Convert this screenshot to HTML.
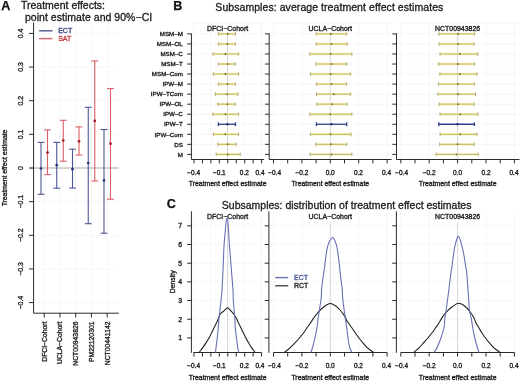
<!DOCTYPE html>
<html><head><meta charset="utf-8"><style>
html,body{margin:0;padding:0;background:#fff;}
svg{display:block;}
</style></head><body>
<svg width="520" height="381" viewBox="0 0 520 381" style="font-family:'Liberation Sans', Arial, Helvetica, sans-serif">
<rect width="520" height="381" fill="#fff"/>
<line x1="44.20" y1="22.40" x2="44.20" y2="313.20" stroke="#f4f4f6" stroke-width="0.8" />
<line x1="59.95" y1="22.40" x2="59.95" y2="313.20" stroke="#f4f4f6" stroke-width="0.8" />
<line x1="75.70" y1="22.40" x2="75.70" y2="313.20" stroke="#f4f4f6" stroke-width="0.8" />
<line x1="91.45" y1="22.40" x2="91.45" y2="313.20" stroke="#f4f4f6" stroke-width="0.8" />
<line x1="107.20" y1="22.40" x2="107.20" y2="313.20" stroke="#f4f4f6" stroke-width="0.8" />
<line x1="33.60" y1="33.40" x2="118.70" y2="33.40" stroke="#f4f4f6" stroke-width="0.8" />
<line x1="33.60" y1="67.05" x2="118.70" y2="67.05" stroke="#f4f4f6" stroke-width="0.8" />
<line x1="33.60" y1="100.70" x2="118.70" y2="100.70" stroke="#f4f4f6" stroke-width="0.8" />
<line x1="33.60" y1="134.35" x2="118.70" y2="134.35" stroke="#f4f4f6" stroke-width="0.8" />
<line x1="33.60" y1="201.65" x2="118.70" y2="201.65" stroke="#f4f4f6" stroke-width="0.8" />
<line x1="33.60" y1="235.30" x2="118.70" y2="235.30" stroke="#f4f4f6" stroke-width="0.8" />
<line x1="33.60" y1="268.95" x2="118.70" y2="268.95" stroke="#f4f4f6" stroke-width="0.8" />
<line x1="33.60" y1="302.60" x2="118.70" y2="302.60" stroke="#f4f4f6" stroke-width="0.8" />
<line x1="33.60" y1="168.00" x2="118.70" y2="168.00" stroke="#a8a8a8" stroke-width="1" />
<line x1="30.00" y1="168.00" x2="33.60" y2="168.00" stroke="#a8a8a8" stroke-width="1" />
<path d="M33.6,22.4 V313.2 H118.7" fill="none" stroke="#2a2a2a" stroke-width="1"/>
<line x1="29.00" y1="33.40" x2="33.60" y2="33.40" stroke="#2a2a2a" stroke-width="1" />
<text x="22.80" y="33.40" font-size="6.9" text-anchor="middle" fill="#1e1e1e" font-weight="normal" stroke="#1e1e1e" stroke-width="0.34" transform="rotate(-90 22.80 33.40)" >0.4</text>
<line x1="29.00" y1="67.05" x2="33.60" y2="67.05" stroke="#2a2a2a" stroke-width="1" />
<text x="22.80" y="67.05" font-size="6.9" text-anchor="middle" fill="#1e1e1e" font-weight="normal" stroke="#1e1e1e" stroke-width="0.34" transform="rotate(-90 22.80 67.05)" >0.3</text>
<line x1="29.00" y1="100.70" x2="33.60" y2="100.70" stroke="#2a2a2a" stroke-width="1" />
<text x="22.80" y="100.70" font-size="6.9" text-anchor="middle" fill="#1e1e1e" font-weight="normal" stroke="#1e1e1e" stroke-width="0.34" transform="rotate(-90 22.80 100.70)" >0.2</text>
<line x1="29.00" y1="134.35" x2="33.60" y2="134.35" stroke="#2a2a2a" stroke-width="1" />
<text x="22.80" y="134.35" font-size="6.9" text-anchor="middle" fill="#1e1e1e" font-weight="normal" stroke="#1e1e1e" stroke-width="0.34" transform="rotate(-90 22.80 134.35)" >0.1</text>
<line x1="29.00" y1="168.00" x2="33.60" y2="168.00" stroke="#2a2a2a" stroke-width="1" />
<text x="22.80" y="168.00" font-size="6.9" text-anchor="middle" fill="#1e1e1e" font-weight="normal" stroke="#1e1e1e" stroke-width="0.34" transform="rotate(-90 22.80 168.00)" >0</text>
<line x1="29.00" y1="201.65" x2="33.60" y2="201.65" stroke="#2a2a2a" stroke-width="1" />
<text x="22.80" y="201.65" font-size="6.9" text-anchor="middle" fill="#1e1e1e" font-weight="normal" stroke="#1e1e1e" stroke-width="0.34" transform="rotate(-90 22.80 201.65)" >−0.1</text>
<line x1="29.00" y1="235.30" x2="33.60" y2="235.30" stroke="#2a2a2a" stroke-width="1" />
<text x="22.80" y="235.30" font-size="6.9" text-anchor="middle" fill="#1e1e1e" font-weight="normal" stroke="#1e1e1e" stroke-width="0.34" transform="rotate(-90 22.80 235.30)" >−0.2</text>
<line x1="29.00" y1="268.95" x2="33.60" y2="268.95" stroke="#2a2a2a" stroke-width="1" />
<text x="22.80" y="268.95" font-size="6.9" text-anchor="middle" fill="#1e1e1e" font-weight="normal" stroke="#1e1e1e" stroke-width="0.34" transform="rotate(-90 22.80 268.95)" >−0.3</text>
<line x1="29.00" y1="302.60" x2="33.60" y2="302.60" stroke="#2a2a2a" stroke-width="1" />
<text x="22.80" y="302.60" font-size="6.9" text-anchor="middle" fill="#1e1e1e" font-weight="normal" stroke="#1e1e1e" stroke-width="0.34" transform="rotate(-90 22.80 302.60)" >−0.4</text>
<line x1="44.20" y1="313.20" x2="44.20" y2="317.40" stroke="#2a2a2a" stroke-width="1" />
<text x="46.65" y="321.50" font-size="6.8" text-anchor="end" fill="#1e1e1e" font-weight="normal" stroke="#1e1e1e" stroke-width="0.34" transform="rotate(-90 46.65 321.50)" >DFCI−Cohort</text>
<line x1="59.95" y1="313.20" x2="59.95" y2="317.40" stroke="#2a2a2a" stroke-width="1" />
<text x="62.40" y="321.50" font-size="6.8" text-anchor="end" fill="#1e1e1e" font-weight="normal" stroke="#1e1e1e" stroke-width="0.34" transform="rotate(-90 62.40 321.50)" >UCLA−Cohort</text>
<line x1="75.70" y1="313.20" x2="75.70" y2="317.40" stroke="#2a2a2a" stroke-width="1" />
<text x="78.15" y="321.50" font-size="6.8" text-anchor="end" fill="#1e1e1e" font-weight="normal" stroke="#1e1e1e" stroke-width="0.34" transform="rotate(-90 78.15 321.50)" >NCT00943826</text>
<line x1="91.45" y1="313.20" x2="91.45" y2="317.40" stroke="#2a2a2a" stroke-width="1" />
<text x="93.90" y="321.50" font-size="6.8" text-anchor="end" fill="#1e1e1e" font-weight="normal" stroke="#1e1e1e" stroke-width="0.34" transform="rotate(-90 93.90 321.50)" >PM22120301</text>
<line x1="107.20" y1="313.20" x2="107.20" y2="317.40" stroke="#2a2a2a" stroke-width="1" />
<text x="109.65" y="321.50" font-size="6.8" text-anchor="end" fill="#1e1e1e" font-weight="normal" stroke="#1e1e1e" stroke-width="0.34" transform="rotate(-90 109.65 321.50)" >NCT00441142</text>
<text x="6.60" y="168.00" font-size="6.8" text-anchor="middle" fill="#1e1e1e" font-weight="normal" stroke="#1e1e1e" stroke-width="0.34" transform="rotate(-90 6.60 168.00)" >Treatment effect estimate</text>
<line x1="41.00" y1="142.40" x2="41.00" y2="194.30" stroke="#4d5690" stroke-width="1.1" />
<line x1="37.60" y1="142.40" x2="44.40" y2="142.40" stroke="#4d5690" stroke-width="1.1" />
<line x1="37.60" y1="194.30" x2="44.40" y2="194.30" stroke="#4d5690" stroke-width="1.1" />
<circle cx="41.00" cy="168.50" r="1.35" fill="#2c347a"/>
<line x1="47.50" y1="130.00" x2="47.50" y2="174.60" stroke="#da5e66" stroke-width="1.1" />
<line x1="44.10" y1="130.00" x2="50.90" y2="130.00" stroke="#da5e66" stroke-width="1.1" />
<line x1="44.10" y1="174.60" x2="50.90" y2="174.60" stroke="#da5e66" stroke-width="1.1" />
<circle cx="47.50" cy="152.50" r="1.35" fill="#a01820"/>
<line x1="56.75" y1="142.40" x2="56.75" y2="188.20" stroke="#4d5690" stroke-width="1.1" />
<line x1="53.35" y1="142.40" x2="60.15" y2="142.40" stroke="#4d5690" stroke-width="1.1" />
<line x1="53.35" y1="188.20" x2="60.15" y2="188.20" stroke="#4d5690" stroke-width="1.1" />
<circle cx="56.75" cy="165.20" r="1.35" fill="#2c347a"/>
<line x1="63.25" y1="120.30" x2="63.25" y2="161.20" stroke="#da5e66" stroke-width="1.1" />
<line x1="59.85" y1="120.30" x2="66.65" y2="120.30" stroke="#da5e66" stroke-width="1.1" />
<line x1="59.85" y1="161.20" x2="66.65" y2="161.20" stroke="#da5e66" stroke-width="1.1" />
<circle cx="63.25" cy="140.50" r="1.35" fill="#a01820"/>
<line x1="72.50" y1="149.20" x2="72.50" y2="188.00" stroke="#4d5690" stroke-width="1.1" />
<line x1="69.10" y1="149.20" x2="75.90" y2="149.20" stroke="#4d5690" stroke-width="1.1" />
<line x1="69.10" y1="188.00" x2="75.90" y2="188.00" stroke="#4d5690" stroke-width="1.1" />
<circle cx="72.50" cy="169.20" r="1.35" fill="#2c347a"/>
<line x1="79.00" y1="126.90" x2="79.00" y2="155.00" stroke="#da5e66" stroke-width="1.1" />
<line x1="75.60" y1="126.90" x2="82.40" y2="126.90" stroke="#da5e66" stroke-width="1.1" />
<line x1="75.60" y1="155.00" x2="82.40" y2="155.00" stroke="#da5e66" stroke-width="1.1" />
<circle cx="79.00" cy="141.30" r="1.35" fill="#a01820"/>
<line x1="88.25" y1="107.30" x2="88.25" y2="223.70" stroke="#4d5690" stroke-width="1.1" />
<line x1="84.85" y1="107.30" x2="91.65" y2="107.30" stroke="#4d5690" stroke-width="1.1" />
<line x1="84.85" y1="223.70" x2="91.65" y2="223.70" stroke="#4d5690" stroke-width="1.1" />
<circle cx="88.25" cy="163.00" r="1.35" fill="#2c347a"/>
<line x1="94.75" y1="61.00" x2="94.75" y2="181.00" stroke="#da5e66" stroke-width="1.1" />
<line x1="91.35" y1="61.00" x2="98.15" y2="61.00" stroke="#da5e66" stroke-width="1.1" />
<line x1="91.35" y1="181.00" x2="98.15" y2="181.00" stroke="#da5e66" stroke-width="1.1" />
<circle cx="94.75" cy="120.90" r="1.35" fill="#a01820"/>
<line x1="104.00" y1="129.50" x2="104.00" y2="233.20" stroke="#4d5690" stroke-width="1.1" />
<line x1="100.60" y1="129.50" x2="107.40" y2="129.50" stroke="#4d5690" stroke-width="1.1" />
<line x1="100.60" y1="233.20" x2="107.40" y2="233.20" stroke="#4d5690" stroke-width="1.1" />
<circle cx="104.00" cy="180.40" r="1.35" fill="#2c347a"/>
<line x1="110.50" y1="88.60" x2="110.50" y2="199.20" stroke="#da5e66" stroke-width="1.1" />
<line x1="107.10" y1="88.60" x2="113.90" y2="88.60" stroke="#da5e66" stroke-width="1.1" />
<line x1="107.10" y1="199.20" x2="113.90" y2="199.20" stroke="#da5e66" stroke-width="1.1" />
<circle cx="110.50" cy="143.70" r="1.35" fill="#a01820"/>
<line x1="39.10" y1="30.80" x2="52.50" y2="30.80" stroke="#5a6398" stroke-width="1.5" />
<line x1="39.10" y1="38.60" x2="52.50" y2="38.60" stroke="#d06a72" stroke-width="1.5" />
<text x="58.20" y="33.30" font-size="7" text-anchor="start" fill="#3e4782" font-weight="normal" stroke="#3e4782" stroke-width="0.34" >ECT</text>
<text x="58.20" y="41.10" font-size="7" text-anchor="start" fill="#c23c40" font-weight="normal" stroke="#c23c40" stroke-width="0.34" >SAT</text>
<text x="1.20" y="10.20" font-size="12.6" text-anchor="start" fill="#111" font-weight="bold" stroke="#111" stroke-width="0.25" >A</text>
<text x="21.00" y="8.60" font-size="10.5" text-anchor="start" fill="#1a1a1a" font-weight="normal" stroke="#1a1a1a" stroke-width="0.3" >Treatment effects:</text>
<text x="24.90" y="20.80" font-size="10.5" text-anchor="start" fill="#1a1a1a" font-weight="normal" stroke="#1a1a1a" stroke-width="0.3" textLength="127.3">point estimate and 90%−CI</text>
<line x1="193.80" y1="23.00" x2="193.80" y2="159.50" stroke="#f4f4f6" stroke-width="0.8" />
<line x1="210.70" y1="23.00" x2="210.70" y2="159.50" stroke="#f4f4f6" stroke-width="0.8" />
<line x1="244.50" y1="23.00" x2="244.50" y2="159.50" stroke="#f4f4f6" stroke-width="0.8" />
<line x1="261.40" y1="23.00" x2="261.40" y2="159.50" stroke="#f4f4f6" stroke-width="0.8" />
<line x1="191.40" y1="23.00" x2="264.10" y2="23.00" stroke="#f4f4f6" stroke-width="0.8" />
<line x1="191.40" y1="33.90" x2="264.10" y2="33.90" stroke="#f3f3f6" stroke-width="0.8" />
<line x1="191.40" y1="43.94" x2="264.10" y2="43.94" stroke="#f3f3f6" stroke-width="0.8" />
<line x1="191.40" y1="53.98" x2="264.10" y2="53.98" stroke="#f3f3f6" stroke-width="0.8" />
<line x1="191.40" y1="64.02" x2="264.10" y2="64.02" stroke="#f3f3f6" stroke-width="0.8" />
<line x1="191.40" y1="74.06" x2="264.10" y2="74.06" stroke="#f3f3f6" stroke-width="0.8" />
<line x1="191.40" y1="84.10" x2="264.10" y2="84.10" stroke="#f3f3f6" stroke-width="0.8" />
<line x1="191.40" y1="94.14" x2="264.10" y2="94.14" stroke="#f3f3f6" stroke-width="0.8" />
<line x1="191.40" y1="104.18" x2="264.10" y2="104.18" stroke="#f3f3f6" stroke-width="0.8" />
<line x1="191.40" y1="114.22" x2="264.10" y2="114.22" stroke="#f3f3f6" stroke-width="0.8" />
<line x1="191.40" y1="124.26" x2="264.10" y2="124.26" stroke="#f3f3f6" stroke-width="0.8" />
<line x1="191.40" y1="134.30" x2="264.10" y2="134.30" stroke="#f3f3f6" stroke-width="0.8" />
<line x1="191.40" y1="144.34" x2="264.10" y2="144.34" stroke="#f3f3f6" stroke-width="0.8" />
<line x1="191.40" y1="154.38" x2="264.10" y2="154.38" stroke="#f3f3f6" stroke-width="0.8" />
<line x1="227.60" y1="32.00" x2="227.60" y2="159.50" stroke="#cacad2" stroke-width="0.8" />
<path d="M191.4,33.4 V159.5 H264.1" fill="none" stroke="#2a2a2a" stroke-width="1"/>
<line x1="187.20" y1="33.90" x2="191.40" y2="33.90" stroke="#2a2a2a" stroke-width="1" />
<line x1="187.20" y1="43.94" x2="191.40" y2="43.94" stroke="#2a2a2a" stroke-width="1" />
<line x1="187.20" y1="53.98" x2="191.40" y2="53.98" stroke="#2a2a2a" stroke-width="1" />
<line x1="187.20" y1="64.02" x2="191.40" y2="64.02" stroke="#2a2a2a" stroke-width="1" />
<line x1="187.20" y1="74.06" x2="191.40" y2="74.06" stroke="#2a2a2a" stroke-width="1" />
<line x1="187.20" y1="84.10" x2="191.40" y2="84.10" stroke="#2a2a2a" stroke-width="1" />
<line x1="187.20" y1="94.14" x2="191.40" y2="94.14" stroke="#2a2a2a" stroke-width="1" />
<line x1="187.20" y1="104.18" x2="191.40" y2="104.18" stroke="#2a2a2a" stroke-width="1" />
<line x1="187.20" y1="114.22" x2="191.40" y2="114.22" stroke="#2a2a2a" stroke-width="1" />
<line x1="187.20" y1="124.26" x2="191.40" y2="124.26" stroke="#2a2a2a" stroke-width="1" />
<line x1="187.20" y1="134.30" x2="191.40" y2="134.30" stroke="#2a2a2a" stroke-width="1" />
<line x1="187.20" y1="144.34" x2="191.40" y2="144.34" stroke="#2a2a2a" stroke-width="1" />
<line x1="187.20" y1="154.38" x2="191.40" y2="154.38" stroke="#2a2a2a" stroke-width="1" />
<line x1="194.00" y1="159.50" x2="194.00" y2="163.40" stroke="#2a2a2a" stroke-width="1" />
<line x1="202.45" y1="159.50" x2="202.45" y2="163.40" stroke="#2a2a2a" stroke-width="1" />
<line x1="210.90" y1="159.50" x2="210.90" y2="163.40" stroke="#2a2a2a" stroke-width="1" />
<line x1="219.35" y1="159.50" x2="219.35" y2="163.40" stroke="#2a2a2a" stroke-width="1" />
<line x1="227.80" y1="159.50" x2="227.80" y2="163.40" stroke="#2a2a2a" stroke-width="1" />
<line x1="236.25" y1="159.50" x2="236.25" y2="163.40" stroke="#2a2a2a" stroke-width="1" />
<line x1="244.70" y1="159.50" x2="244.70" y2="163.40" stroke="#2a2a2a" stroke-width="1" />
<line x1="253.15" y1="159.50" x2="253.15" y2="163.40" stroke="#2a2a2a" stroke-width="1" />
<line x1="261.60" y1="159.50" x2="261.60" y2="163.40" stroke="#2a2a2a" stroke-width="1" />
<text x="193.70" y="174.90" font-size="6.5" text-anchor="middle" fill="#1e1e1e" font-weight="normal" stroke="#1e1e1e" stroke-width="0.34" >−0.4</text>
<text x="219.30" y="174.90" font-size="6.5" text-anchor="middle" fill="#1e1e1e" font-weight="normal" stroke="#1e1e1e" stroke-width="0.34" >−0.1</text>
<text x="244.30" y="174.90" font-size="6.5" text-anchor="middle" fill="#1e1e1e" font-weight="normal" stroke="#1e1e1e" stroke-width="0.34" >0.2</text>
<text x="260.00" y="174.90" font-size="6.5" text-anchor="middle" fill="#1e1e1e" font-weight="normal" stroke="#1e1e1e" stroke-width="0.34" >0.4</text>
<text x="227.60" y="185.50" font-size="6.9" text-anchor="middle" fill="#1e1e1e" font-weight="normal" stroke="#1e1e1e" stroke-width="0.34" >Treatment effect estimate</text>
<text x="227.60" y="31.25" font-size="6.95" text-anchor="middle" fill="#1e1e1e" font-weight="normal" stroke="#1e1e1e" stroke-width="0.34" >DFCI−Cohort</text>
<line x1="217.90" y1="33.90" x2="235.90" y2="33.90" stroke="#f6eeb4" stroke-width="2.4" />
<line x1="218.40" y1="33.90" x2="235.40" y2="33.90" stroke="#b8aa50" stroke-width="0.8" />
<line x1="218.40" y1="32.00" x2="218.40" y2="35.80" stroke="#aca270" stroke-width="0.8" />
<line x1="235.40" y1="32.00" x2="235.40" y2="35.80" stroke="#aca270" stroke-width="0.8" />
<circle cx="227.70" cy="33.90" r="1.0" fill="#7e7428"/>
<line x1="217.90" y1="43.94" x2="235.90" y2="43.94" stroke="#f6eeb4" stroke-width="2.4" />
<line x1="218.40" y1="43.94" x2="235.40" y2="43.94" stroke="#b8aa50" stroke-width="0.8" />
<line x1="218.40" y1="42.04" x2="218.40" y2="45.84" stroke="#aca270" stroke-width="0.8" />
<line x1="235.40" y1="42.04" x2="235.40" y2="45.84" stroke="#aca270" stroke-width="0.8" />
<circle cx="227.30" cy="43.94" r="1.0" fill="#7e7428"/>
<line x1="212.50" y1="53.98" x2="239.20" y2="53.98" stroke="#f6eeb4" stroke-width="2.4" />
<line x1="213.00" y1="53.98" x2="238.70" y2="53.98" stroke="#b8aa50" stroke-width="0.8" />
<line x1="213.00" y1="52.08" x2="213.00" y2="55.88" stroke="#aca270" stroke-width="0.8" />
<line x1="238.70" y1="52.08" x2="238.70" y2="55.88" stroke="#aca270" stroke-width="0.8" />
<circle cx="225.60" cy="53.98" r="1.0" fill="#7e7428"/>
<line x1="217.90" y1="64.02" x2="235.90" y2="64.02" stroke="#f6eeb4" stroke-width="2.4" />
<line x1="218.40" y1="64.02" x2="235.40" y2="64.02" stroke="#b8aa50" stroke-width="0.8" />
<line x1="218.40" y1="62.12" x2="218.40" y2="65.92" stroke="#aca270" stroke-width="0.8" />
<line x1="235.40" y1="62.12" x2="235.40" y2="65.92" stroke="#aca270" stroke-width="0.8" />
<circle cx="227.60" cy="64.02" r="1.0" fill="#7e7428"/>
<line x1="212.90" y1="74.06" x2="239.10" y2="74.06" stroke="#f6eeb4" stroke-width="2.4" />
<line x1="213.40" y1="74.06" x2="238.60" y2="74.06" stroke="#b8aa50" stroke-width="0.8" />
<line x1="213.40" y1="72.16" x2="213.40" y2="75.96" stroke="#aca270" stroke-width="0.8" />
<line x1="238.60" y1="72.16" x2="238.60" y2="75.96" stroke="#aca270" stroke-width="0.8" />
<circle cx="225.60" cy="74.06" r="1.0" fill="#7e7428"/>
<line x1="217.90" y1="84.10" x2="235.90" y2="84.10" stroke="#f6eeb4" stroke-width="2.4" />
<line x1="218.40" y1="84.10" x2="235.40" y2="84.10" stroke="#b8aa50" stroke-width="0.8" />
<line x1="218.40" y1="82.20" x2="218.40" y2="86.00" stroke="#aca270" stroke-width="0.8" />
<line x1="235.40" y1="82.20" x2="235.40" y2="86.00" stroke="#aca270" stroke-width="0.8" />
<circle cx="227.50" cy="84.10" r="1.0" fill="#7e7428"/>
<line x1="214.90" y1="94.14" x2="238.50" y2="94.14" stroke="#f6eeb4" stroke-width="2.4" />
<line x1="215.40" y1="94.14" x2="238.00" y2="94.14" stroke="#b8aa50" stroke-width="0.8" />
<line x1="215.40" y1="92.24" x2="215.40" y2="96.04" stroke="#aca270" stroke-width="0.8" />
<line x1="238.00" y1="92.24" x2="238.00" y2="96.04" stroke="#aca270" stroke-width="0.8" />
<circle cx="227.10" cy="94.14" r="1.0" fill="#7e7428"/>
<line x1="217.30" y1="104.18" x2="235.90" y2="104.18" stroke="#f6eeb4" stroke-width="2.4" />
<line x1="217.80" y1="104.18" x2="235.40" y2="104.18" stroke="#b8aa50" stroke-width="0.8" />
<line x1="217.80" y1="102.28" x2="217.80" y2="106.08" stroke="#aca270" stroke-width="0.8" />
<line x1="235.40" y1="102.28" x2="235.40" y2="106.08" stroke="#aca270" stroke-width="0.8" />
<circle cx="227.30" cy="104.18" r="1.0" fill="#7e7428"/>
<line x1="212.30" y1="114.22" x2="239.10" y2="114.22" stroke="#f6eeb4" stroke-width="2.4" />
<line x1="212.80" y1="114.22" x2="238.60" y2="114.22" stroke="#b8aa50" stroke-width="0.8" />
<line x1="212.80" y1="112.32" x2="212.80" y2="116.12" stroke="#aca270" stroke-width="0.8" />
<line x1="238.60" y1="112.32" x2="238.60" y2="116.12" stroke="#aca270" stroke-width="0.8" />
<circle cx="225.60" cy="114.22" r="1.0" fill="#7e7428"/>
<line x1="218.40" y1="124.26" x2="235.40" y2="124.26" stroke="#323e88" stroke-width="1.3" />
<line x1="218.40" y1="122.36" x2="218.40" y2="126.16" stroke="#323e88" stroke-width="1.3" />
<line x1="235.40" y1="122.36" x2="235.40" y2="126.16" stroke="#323e88" stroke-width="1.3" />
<circle cx="227.50" cy="124.26" r="1.15" fill="#1e2670"/>
<line x1="213.00" y1="134.30" x2="239.10" y2="134.30" stroke="#f6eeb4" stroke-width="2.4" />
<line x1="213.50" y1="134.30" x2="238.60" y2="134.30" stroke="#b8aa50" stroke-width="0.8" />
<line x1="213.50" y1="132.40" x2="213.50" y2="136.20" stroke="#aca270" stroke-width="0.8" />
<line x1="238.60" y1="132.40" x2="238.60" y2="136.20" stroke="#aca270" stroke-width="0.8" />
<circle cx="225.30" cy="134.30" r="1.0" fill="#7e7428"/>
<line x1="217.30" y1="144.34" x2="236.60" y2="144.34" stroke="#f6eeb4" stroke-width="2.4" />
<line x1="217.80" y1="144.34" x2="236.10" y2="144.34" stroke="#b8aa50" stroke-width="0.8" />
<line x1="217.80" y1="142.44" x2="217.80" y2="146.24" stroke="#aca270" stroke-width="0.8" />
<line x1="236.10" y1="142.44" x2="236.10" y2="146.24" stroke="#aca270" stroke-width="0.8" />
<circle cx="227.50" cy="144.34" r="1.0" fill="#7e7428"/>
<line x1="215.70" y1="154.38" x2="240.80" y2="154.38" stroke="#f6eeb4" stroke-width="2.4" />
<line x1="216.20" y1="154.38" x2="240.30" y2="154.38" stroke="#b8aa50" stroke-width="0.8" />
<line x1="216.20" y1="152.48" x2="216.20" y2="156.28" stroke="#aca270" stroke-width="0.8" />
<line x1="240.30" y1="152.48" x2="240.30" y2="156.28" stroke="#aca270" stroke-width="0.8" />
<circle cx="227.70" cy="154.38" r="1.0" fill="#7e7428"/>
<text x="182.80" y="36.10" font-size="6.2" text-anchor="end" fill="#1e1e1e" font-weight="normal" stroke="#1e1e1e" stroke-width="0.34" >MSM–M</text>
<text x="182.80" y="46.14" font-size="6.2" text-anchor="end" fill="#1e1e1e" font-weight="normal" stroke="#1e1e1e" stroke-width="0.34" >MSM–OL</text>
<text x="182.80" y="56.18" font-size="6.2" text-anchor="end" fill="#1e1e1e" font-weight="normal" stroke="#1e1e1e" stroke-width="0.34" >MSM–C</text>
<text x="182.80" y="66.22" font-size="6.2" text-anchor="end" fill="#1e1e1e" font-weight="normal" stroke="#1e1e1e" stroke-width="0.34" >MSM–T</text>
<text x="182.80" y="76.26" font-size="6.2" text-anchor="end" fill="#1e1e1e" font-weight="normal" stroke="#1e1e1e" stroke-width="0.34" >MSM–Com</text>
<text x="182.80" y="86.30" font-size="6.2" text-anchor="end" fill="#1e1e1e" font-weight="normal" stroke="#1e1e1e" stroke-width="0.34" >IPW–M</text>
<text x="182.80" y="96.34" font-size="6.2" text-anchor="end" fill="#1e1e1e" font-weight="normal" stroke="#1e1e1e" stroke-width="0.34" >IPW–TCom</text>
<text x="182.80" y="106.38" font-size="6.2" text-anchor="end" fill="#1e1e1e" font-weight="normal" stroke="#1e1e1e" stroke-width="0.34" >IPW–OL</text>
<text x="182.80" y="116.42" font-size="6.2" text-anchor="end" fill="#1e1e1e" font-weight="normal" stroke="#1e1e1e" stroke-width="0.34" >IPW–C</text>
<text x="182.80" y="126.46" font-size="6.2" text-anchor="end" fill="#1e1e1e" font-weight="normal" stroke="#1e1e1e" stroke-width="0.34" >IPW–T</text>
<text x="182.80" y="136.50" font-size="6.2" text-anchor="end" fill="#1e1e1e" font-weight="normal" stroke="#1e1e1e" stroke-width="0.34" >IPW–Com</text>
<text x="182.80" y="146.54" font-size="6.2" text-anchor="end" fill="#1e1e1e" font-weight="normal" stroke="#1e1e1e" stroke-width="0.34" >DS</text>
<text x="182.80" y="156.58" font-size="6.2" text-anchor="end" fill="#1e1e1e" font-weight="normal" stroke="#1e1e1e" stroke-width="0.34" >M</text>
<line x1="273.50" y1="23.00" x2="273.50" y2="159.50" stroke="#f4f4f6" stroke-width="0.8" />
<line x1="301.90" y1="23.00" x2="301.90" y2="159.50" stroke="#f4f4f6" stroke-width="0.8" />
<line x1="358.70" y1="23.00" x2="358.70" y2="159.50" stroke="#f4f4f6" stroke-width="0.8" />
<line x1="387.10" y1="23.00" x2="387.10" y2="159.50" stroke="#f4f4f6" stroke-width="0.8" />
<line x1="269.20" y1="23.00" x2="391.50" y2="23.00" stroke="#f4f4f6" stroke-width="0.8" />
<line x1="269.20" y1="33.90" x2="391.50" y2="33.90" stroke="#f3f3f6" stroke-width="0.8" />
<line x1="269.20" y1="43.94" x2="391.50" y2="43.94" stroke="#f3f3f6" stroke-width="0.8" />
<line x1="269.20" y1="53.98" x2="391.50" y2="53.98" stroke="#f3f3f6" stroke-width="0.8" />
<line x1="269.20" y1="64.02" x2="391.50" y2="64.02" stroke="#f3f3f6" stroke-width="0.8" />
<line x1="269.20" y1="74.06" x2="391.50" y2="74.06" stroke="#f3f3f6" stroke-width="0.8" />
<line x1="269.20" y1="84.10" x2="391.50" y2="84.10" stroke="#f3f3f6" stroke-width="0.8" />
<line x1="269.20" y1="94.14" x2="391.50" y2="94.14" stroke="#f3f3f6" stroke-width="0.8" />
<line x1="269.20" y1="104.18" x2="391.50" y2="104.18" stroke="#f3f3f6" stroke-width="0.8" />
<line x1="269.20" y1="114.22" x2="391.50" y2="114.22" stroke="#f3f3f6" stroke-width="0.8" />
<line x1="269.20" y1="124.26" x2="391.50" y2="124.26" stroke="#f3f3f6" stroke-width="0.8" />
<line x1="269.20" y1="134.30" x2="391.50" y2="134.30" stroke="#f3f3f6" stroke-width="0.8" />
<line x1="269.20" y1="144.34" x2="391.50" y2="144.34" stroke="#f3f3f6" stroke-width="0.8" />
<line x1="269.20" y1="154.38" x2="391.50" y2="154.38" stroke="#f3f3f6" stroke-width="0.8" />
<line x1="330.30" y1="32.00" x2="330.30" y2="159.50" stroke="#cacad2" stroke-width="0.8" />
<path d="M269.2,33.4 V159.5 H391.5" fill="none" stroke="#2a2a2a" stroke-width="1"/>
<line x1="265.00" y1="33.90" x2="269.20" y2="33.90" stroke="#2a2a2a" stroke-width="1" />
<line x1="265.00" y1="43.94" x2="269.20" y2="43.94" stroke="#2a2a2a" stroke-width="1" />
<line x1="265.00" y1="53.98" x2="269.20" y2="53.98" stroke="#2a2a2a" stroke-width="1" />
<line x1="265.00" y1="64.02" x2="269.20" y2="64.02" stroke="#2a2a2a" stroke-width="1" />
<line x1="265.00" y1="74.06" x2="269.20" y2="74.06" stroke="#2a2a2a" stroke-width="1" />
<line x1="265.00" y1="84.10" x2="269.20" y2="84.10" stroke="#2a2a2a" stroke-width="1" />
<line x1="265.00" y1="94.14" x2="269.20" y2="94.14" stroke="#2a2a2a" stroke-width="1" />
<line x1="265.00" y1="104.18" x2="269.20" y2="104.18" stroke="#2a2a2a" stroke-width="1" />
<line x1="265.00" y1="114.22" x2="269.20" y2="114.22" stroke="#2a2a2a" stroke-width="1" />
<line x1="265.00" y1="124.26" x2="269.20" y2="124.26" stroke="#2a2a2a" stroke-width="1" />
<line x1="265.00" y1="134.30" x2="269.20" y2="134.30" stroke="#2a2a2a" stroke-width="1" />
<line x1="265.00" y1="144.34" x2="269.20" y2="144.34" stroke="#2a2a2a" stroke-width="1" />
<line x1="265.00" y1="154.38" x2="269.20" y2="154.38" stroke="#2a2a2a" stroke-width="1" />
<line x1="273.50" y1="159.50" x2="273.50" y2="163.40" stroke="#2a2a2a" stroke-width="1" />
<line x1="287.70" y1="159.50" x2="287.70" y2="163.40" stroke="#2a2a2a" stroke-width="1" />
<line x1="301.90" y1="159.50" x2="301.90" y2="163.40" stroke="#2a2a2a" stroke-width="1" />
<line x1="316.10" y1="159.50" x2="316.10" y2="163.40" stroke="#2a2a2a" stroke-width="1" />
<line x1="330.30" y1="159.50" x2="330.30" y2="163.40" stroke="#2a2a2a" stroke-width="1" />
<line x1="344.50" y1="159.50" x2="344.50" y2="163.40" stroke="#2a2a2a" stroke-width="1" />
<line x1="358.70" y1="159.50" x2="358.70" y2="163.40" stroke="#2a2a2a" stroke-width="1" />
<line x1="372.90" y1="159.50" x2="372.90" y2="163.40" stroke="#2a2a2a" stroke-width="1" />
<line x1="387.10" y1="159.50" x2="387.10" y2="163.40" stroke="#2a2a2a" stroke-width="1" />
<text x="274.60" y="174.90" font-size="6.5" text-anchor="middle" fill="#1e1e1e" font-weight="normal" stroke="#1e1e1e" stroke-width="0.34" >−0.4</text>
<text x="301.90" y="174.90" font-size="6.5" text-anchor="middle" fill="#1e1e1e" font-weight="normal" stroke="#1e1e1e" stroke-width="0.34" >−0.2</text>
<text x="330.20" y="174.90" font-size="6.5" text-anchor="middle" fill="#1e1e1e" font-weight="normal" stroke="#1e1e1e" stroke-width="0.34" >0.0</text>
<text x="358.40" y="174.90" font-size="6.5" text-anchor="middle" fill="#1e1e1e" font-weight="normal" stroke="#1e1e1e" stroke-width="0.34" >0.2</text>
<text x="386.50" y="174.90" font-size="6.5" text-anchor="middle" fill="#1e1e1e" font-weight="normal" stroke="#1e1e1e" stroke-width="0.34" >0.4</text>
<text x="330.30" y="185.50" font-size="6.9" text-anchor="middle" fill="#1e1e1e" font-weight="normal" stroke="#1e1e1e" stroke-width="0.34" >Treatment effect estimate</text>
<text x="330.30" y="31.25" font-size="6.95" text-anchor="middle" fill="#1e1e1e" font-weight="normal" stroke="#1e1e1e" stroke-width="0.34" >UCLA−Cohort</text>
<line x1="315.60" y1="33.90" x2="347.20" y2="33.90" stroke="#f6eeb4" stroke-width="2.4" />
<line x1="316.10" y1="33.90" x2="346.70" y2="33.90" stroke="#b8aa50" stroke-width="0.8" />
<line x1="316.10" y1="32.00" x2="316.10" y2="35.80" stroke="#aca270" stroke-width="0.8" />
<line x1="346.70" y1="32.00" x2="346.70" y2="35.80" stroke="#aca270" stroke-width="0.8" />
<circle cx="330.90" cy="33.90" r="1.0" fill="#7e7428"/>
<line x1="315.60" y1="43.94" x2="347.80" y2="43.94" stroke="#f6eeb4" stroke-width="2.4" />
<line x1="316.10" y1="43.94" x2="347.30" y2="43.94" stroke="#b8aa50" stroke-width="0.8" />
<line x1="316.10" y1="42.04" x2="316.10" y2="45.84" stroke="#aca270" stroke-width="0.8" />
<line x1="347.30" y1="42.04" x2="347.30" y2="45.84" stroke="#aca270" stroke-width="0.8" />
<circle cx="331.40" cy="43.94" r="1.0" fill="#7e7428"/>
<line x1="309.30" y1="53.98" x2="352.40" y2="53.98" stroke="#f6eeb4" stroke-width="2.4" />
<line x1="309.80" y1="53.98" x2="351.90" y2="53.98" stroke="#b8aa50" stroke-width="0.8" />
<line x1="309.80" y1="52.08" x2="309.80" y2="55.88" stroke="#aca270" stroke-width="0.8" />
<line x1="351.90" y1="52.08" x2="351.90" y2="55.88" stroke="#aca270" stroke-width="0.8" />
<circle cx="330.60" cy="53.98" r="1.0" fill="#7e7428"/>
<line x1="315.40" y1="64.02" x2="347.20" y2="64.02" stroke="#f6eeb4" stroke-width="2.4" />
<line x1="315.90" y1="64.02" x2="346.70" y2="64.02" stroke="#b8aa50" stroke-width="0.8" />
<line x1="315.90" y1="62.12" x2="315.90" y2="65.92" stroke="#aca270" stroke-width="0.8" />
<line x1="346.70" y1="62.12" x2="346.70" y2="65.92" stroke="#aca270" stroke-width="0.8" />
<circle cx="331.40" cy="64.02" r="1.0" fill="#7e7428"/>
<line x1="309.90" y1="74.06" x2="351.20" y2="74.06" stroke="#f6eeb4" stroke-width="2.4" />
<line x1="310.40" y1="74.06" x2="350.70" y2="74.06" stroke="#b8aa50" stroke-width="0.8" />
<line x1="310.40" y1="72.16" x2="310.40" y2="75.96" stroke="#aca270" stroke-width="0.8" />
<line x1="350.70" y1="72.16" x2="350.70" y2="75.96" stroke="#aca270" stroke-width="0.8" />
<circle cx="330.60" cy="74.06" r="1.0" fill="#7e7428"/>
<line x1="315.90" y1="84.10" x2="347.20" y2="84.10" stroke="#f6eeb4" stroke-width="2.4" />
<line x1="316.40" y1="84.10" x2="346.70" y2="84.10" stroke="#b8aa50" stroke-width="0.8" />
<line x1="316.40" y1="82.20" x2="316.40" y2="86.00" stroke="#aca270" stroke-width="0.8" />
<line x1="346.70" y1="82.20" x2="346.70" y2="86.00" stroke="#aca270" stroke-width="0.8" />
<circle cx="331.40" cy="84.10" r="1.0" fill="#7e7428"/>
<line x1="316.00" y1="94.14" x2="351.20" y2="94.14" stroke="#f6eeb4" stroke-width="2.4" />
<line x1="316.50" y1="94.14" x2="350.70" y2="94.14" stroke="#b8aa50" stroke-width="0.8" />
<line x1="316.50" y1="92.24" x2="316.50" y2="96.04" stroke="#aca270" stroke-width="0.8" />
<line x1="350.70" y1="92.24" x2="350.70" y2="96.04" stroke="#aca270" stroke-width="0.8" />
<circle cx="333.80" cy="94.14" r="1.0" fill="#7e7428"/>
<line x1="316.20" y1="104.18" x2="347.60" y2="104.18" stroke="#f6eeb4" stroke-width="2.4" />
<line x1="316.70" y1="104.18" x2="347.10" y2="104.18" stroke="#b8aa50" stroke-width="0.8" />
<line x1="316.70" y1="102.28" x2="316.70" y2="106.08" stroke="#aca270" stroke-width="0.8" />
<line x1="347.10" y1="102.28" x2="347.10" y2="106.08" stroke="#aca270" stroke-width="0.8" />
<circle cx="332.10" cy="104.18" r="1.0" fill="#7e7428"/>
<line x1="309.30" y1="114.22" x2="352.40" y2="114.22" stroke="#f6eeb4" stroke-width="2.4" />
<line x1="309.80" y1="114.22" x2="351.90" y2="114.22" stroke="#b8aa50" stroke-width="0.8" />
<line x1="309.80" y1="112.32" x2="309.80" y2="116.12" stroke="#aca270" stroke-width="0.8" />
<line x1="351.90" y1="112.32" x2="351.90" y2="116.12" stroke="#aca270" stroke-width="0.8" />
<circle cx="330.20" cy="114.22" r="1.0" fill="#7e7428"/>
<line x1="316.40" y1="124.26" x2="346.70" y2="124.26" stroke="#323e88" stroke-width="1.3" />
<line x1="316.40" y1="122.36" x2="316.40" y2="126.16" stroke="#323e88" stroke-width="1.3" />
<line x1="346.70" y1="122.36" x2="346.70" y2="126.16" stroke="#323e88" stroke-width="1.3" />
<circle cx="331.50" cy="124.26" r="1.15" fill="#1e2670"/>
<line x1="309.90" y1="134.30" x2="351.50" y2="134.30" stroke="#f6eeb4" stroke-width="2.4" />
<line x1="310.40" y1="134.30" x2="351.00" y2="134.30" stroke="#b8aa50" stroke-width="0.8" />
<line x1="310.40" y1="132.40" x2="310.40" y2="136.20" stroke="#aca270" stroke-width="0.8" />
<line x1="351.00" y1="132.40" x2="351.00" y2="136.20" stroke="#aca270" stroke-width="0.8" />
<circle cx="330.60" cy="134.30" r="1.0" fill="#7e7428"/>
<line x1="315.10" y1="144.34" x2="347.20" y2="144.34" stroke="#f6eeb4" stroke-width="2.4" />
<line x1="315.60" y1="144.34" x2="346.70" y2="144.34" stroke="#b8aa50" stroke-width="0.8" />
<line x1="315.60" y1="142.44" x2="315.60" y2="146.24" stroke="#aca270" stroke-width="0.8" />
<line x1="346.70" y1="142.44" x2="346.70" y2="146.24" stroke="#aca270" stroke-width="0.8" />
<circle cx="330.90" cy="144.34" r="1.0" fill="#7e7428"/>
<line x1="309.60" y1="154.38" x2="352.40" y2="154.38" stroke="#f6eeb4" stroke-width="2.4" />
<line x1="310.10" y1="154.38" x2="351.90" y2="154.38" stroke="#b8aa50" stroke-width="0.8" />
<line x1="310.10" y1="152.48" x2="310.10" y2="156.28" stroke="#aca270" stroke-width="0.8" />
<line x1="351.90" y1="152.48" x2="351.90" y2="156.28" stroke="#aca270" stroke-width="0.8" />
<circle cx="331.40" cy="154.38" r="1.0" fill="#7e7428"/>
<line x1="400.80" y1="23.00" x2="400.80" y2="159.50" stroke="#f4f4f6" stroke-width="0.8" />
<line x1="429.20" y1="23.00" x2="429.20" y2="159.50" stroke="#f4f4f6" stroke-width="0.8" />
<line x1="486.00" y1="23.00" x2="486.00" y2="159.50" stroke="#f4f4f6" stroke-width="0.8" />
<line x1="514.40" y1="23.00" x2="514.40" y2="159.50" stroke="#f4f4f6" stroke-width="0.8" />
<line x1="396.50" y1="23.00" x2="519.00" y2="23.00" stroke="#f4f4f6" stroke-width="0.8" />
<line x1="396.50" y1="33.90" x2="519.50" y2="33.90" stroke="#f3f3f6" stroke-width="0.8" />
<line x1="396.50" y1="43.94" x2="519.50" y2="43.94" stroke="#f3f3f6" stroke-width="0.8" />
<line x1="396.50" y1="53.98" x2="519.50" y2="53.98" stroke="#f3f3f6" stroke-width="0.8" />
<line x1="396.50" y1="64.02" x2="519.50" y2="64.02" stroke="#f3f3f6" stroke-width="0.8" />
<line x1="396.50" y1="74.06" x2="519.50" y2="74.06" stroke="#f3f3f6" stroke-width="0.8" />
<line x1="396.50" y1="84.10" x2="519.50" y2="84.10" stroke="#f3f3f6" stroke-width="0.8" />
<line x1="396.50" y1="94.14" x2="519.50" y2="94.14" stroke="#f3f3f6" stroke-width="0.8" />
<line x1="396.50" y1="104.18" x2="519.50" y2="104.18" stroke="#f3f3f6" stroke-width="0.8" />
<line x1="396.50" y1="114.22" x2="519.50" y2="114.22" stroke="#f3f3f6" stroke-width="0.8" />
<line x1="396.50" y1="124.26" x2="519.50" y2="124.26" stroke="#f3f3f6" stroke-width="0.8" />
<line x1="396.50" y1="134.30" x2="519.50" y2="134.30" stroke="#f3f3f6" stroke-width="0.8" />
<line x1="396.50" y1="144.34" x2="519.50" y2="144.34" stroke="#f3f3f6" stroke-width="0.8" />
<line x1="396.50" y1="154.38" x2="519.50" y2="154.38" stroke="#f3f3f6" stroke-width="0.8" />
<line x1="457.60" y1="32.00" x2="457.60" y2="159.50" stroke="#cacad2" stroke-width="0.8" />
<path d="M396.5,33.4 V159.5 H519.5" fill="none" stroke="#2a2a2a" stroke-width="1"/>
<line x1="392.30" y1="33.90" x2="396.50" y2="33.90" stroke="#2a2a2a" stroke-width="1" />
<line x1="392.30" y1="43.94" x2="396.50" y2="43.94" stroke="#2a2a2a" stroke-width="1" />
<line x1="392.30" y1="53.98" x2="396.50" y2="53.98" stroke="#2a2a2a" stroke-width="1" />
<line x1="392.30" y1="64.02" x2="396.50" y2="64.02" stroke="#2a2a2a" stroke-width="1" />
<line x1="392.30" y1="74.06" x2="396.50" y2="74.06" stroke="#2a2a2a" stroke-width="1" />
<line x1="392.30" y1="84.10" x2="396.50" y2="84.10" stroke="#2a2a2a" stroke-width="1" />
<line x1="392.30" y1="94.14" x2="396.50" y2="94.14" stroke="#2a2a2a" stroke-width="1" />
<line x1="392.30" y1="104.18" x2="396.50" y2="104.18" stroke="#2a2a2a" stroke-width="1" />
<line x1="392.30" y1="114.22" x2="396.50" y2="114.22" stroke="#2a2a2a" stroke-width="1" />
<line x1="392.30" y1="124.26" x2="396.50" y2="124.26" stroke="#2a2a2a" stroke-width="1" />
<line x1="392.30" y1="134.30" x2="396.50" y2="134.30" stroke="#2a2a2a" stroke-width="1" />
<line x1="392.30" y1="144.34" x2="396.50" y2="144.34" stroke="#2a2a2a" stroke-width="1" />
<line x1="392.30" y1="154.38" x2="396.50" y2="154.38" stroke="#2a2a2a" stroke-width="1" />
<line x1="400.80" y1="159.50" x2="400.80" y2="163.40" stroke="#2a2a2a" stroke-width="1" />
<line x1="415.00" y1="159.50" x2="415.00" y2="163.40" stroke="#2a2a2a" stroke-width="1" />
<line x1="429.20" y1="159.50" x2="429.20" y2="163.40" stroke="#2a2a2a" stroke-width="1" />
<line x1="443.40" y1="159.50" x2="443.40" y2="163.40" stroke="#2a2a2a" stroke-width="1" />
<line x1="457.60" y1="159.50" x2="457.60" y2="163.40" stroke="#2a2a2a" stroke-width="1" />
<line x1="471.80" y1="159.50" x2="471.80" y2="163.40" stroke="#2a2a2a" stroke-width="1" />
<line x1="486.00" y1="159.50" x2="486.00" y2="163.40" stroke="#2a2a2a" stroke-width="1" />
<line x1="500.20" y1="159.50" x2="500.20" y2="163.40" stroke="#2a2a2a" stroke-width="1" />
<line x1="514.40" y1="159.50" x2="514.40" y2="163.40" stroke="#2a2a2a" stroke-width="1" />
<text x="401.60" y="174.90" font-size="6.5" text-anchor="middle" fill="#1e1e1e" font-weight="normal" stroke="#1e1e1e" stroke-width="0.34" >−0.4</text>
<text x="429.10" y="174.90" font-size="6.5" text-anchor="middle" fill="#1e1e1e" font-weight="normal" stroke="#1e1e1e" stroke-width="0.34" >−0.2</text>
<text x="457.50" y="174.90" font-size="6.5" text-anchor="middle" fill="#1e1e1e" font-weight="normal" stroke="#1e1e1e" stroke-width="0.34" >0.0</text>
<text x="486.00" y="174.90" font-size="6.5" text-anchor="middle" fill="#1e1e1e" font-weight="normal" stroke="#1e1e1e" stroke-width="0.34" >0.2</text>
<text x="514.00" y="174.90" font-size="6.5" text-anchor="middle" fill="#1e1e1e" font-weight="normal" stroke="#1e1e1e" stroke-width="0.34" >0.4</text>
<text x="457.60" y="185.50" font-size="6.9" text-anchor="middle" fill="#1e1e1e" font-weight="normal" stroke="#1e1e1e" stroke-width="0.34" >Treatment effect estimate</text>
<text x="457.60" y="31.25" font-size="6.95" text-anchor="middle" fill="#1e1e1e" font-weight="normal" stroke="#1e1e1e" stroke-width="0.34" >NCT00943826</text>
<line x1="438.30" y1="33.90" x2="474.90" y2="33.90" stroke="#f6eeb4" stroke-width="2.4" />
<line x1="438.80" y1="33.90" x2="474.40" y2="33.90" stroke="#b8aa50" stroke-width="0.8" />
<line x1="438.80" y1="32.00" x2="438.80" y2="35.80" stroke="#aca270" stroke-width="0.8" />
<line x1="474.40" y1="32.00" x2="474.40" y2="35.80" stroke="#aca270" stroke-width="0.8" />
<circle cx="458.20" cy="33.90" r="1.0" fill="#7e7428"/>
<line x1="438.60" y1="43.94" x2="474.50" y2="43.94" stroke="#f6eeb4" stroke-width="2.4" />
<line x1="439.10" y1="43.94" x2="474.00" y2="43.94" stroke="#b8aa50" stroke-width="0.8" />
<line x1="439.10" y1="42.04" x2="439.10" y2="45.84" stroke="#aca270" stroke-width="0.8" />
<line x1="474.00" y1="42.04" x2="474.00" y2="45.84" stroke="#aca270" stroke-width="0.8" />
<circle cx="458.20" cy="43.94" r="1.0" fill="#7e7428"/>
<line x1="439.50" y1="53.98" x2="478.30" y2="53.98" stroke="#f6eeb4" stroke-width="2.4" />
<line x1="440.00" y1="53.98" x2="477.80" y2="53.98" stroke="#b8aa50" stroke-width="0.8" />
<line x1="440.00" y1="52.08" x2="440.00" y2="55.88" stroke="#aca270" stroke-width="0.8" />
<line x1="477.80" y1="52.08" x2="477.80" y2="55.88" stroke="#aca270" stroke-width="0.8" />
<circle cx="460.00" cy="53.98" r="1.0" fill="#7e7428"/>
<line x1="438.10" y1="64.02" x2="474.90" y2="64.02" stroke="#f6eeb4" stroke-width="2.4" />
<line x1="438.60" y1="64.02" x2="474.40" y2="64.02" stroke="#b8aa50" stroke-width="0.8" />
<line x1="438.60" y1="62.12" x2="438.60" y2="65.92" stroke="#aca270" stroke-width="0.8" />
<line x1="474.40" y1="62.12" x2="474.40" y2="65.92" stroke="#aca270" stroke-width="0.8" />
<circle cx="457.90" cy="64.02" r="1.0" fill="#7e7428"/>
<line x1="439.30" y1="74.06" x2="477.40" y2="74.06" stroke="#f6eeb4" stroke-width="2.4" />
<line x1="439.80" y1="74.06" x2="476.90" y2="74.06" stroke="#b8aa50" stroke-width="0.8" />
<line x1="439.80" y1="72.16" x2="439.80" y2="75.96" stroke="#aca270" stroke-width="0.8" />
<line x1="476.90" y1="72.16" x2="476.90" y2="75.96" stroke="#aca270" stroke-width="0.8" />
<circle cx="459.80" cy="74.06" r="1.0" fill="#7e7428"/>
<line x1="438.10" y1="84.10" x2="474.90" y2="84.10" stroke="#f6eeb4" stroke-width="2.4" />
<line x1="438.60" y1="84.10" x2="474.40" y2="84.10" stroke="#b8aa50" stroke-width="0.8" />
<line x1="438.60" y1="82.20" x2="438.60" y2="86.00" stroke="#aca270" stroke-width="0.8" />
<line x1="474.40" y1="82.20" x2="474.40" y2="86.00" stroke="#aca270" stroke-width="0.8" />
<circle cx="457.90" cy="84.10" r="1.0" fill="#7e7428"/>
<line x1="437.40" y1="94.14" x2="476.00" y2="94.14" stroke="#f6eeb4" stroke-width="2.4" />
<line x1="437.90" y1="94.14" x2="475.50" y2="94.14" stroke="#b8aa50" stroke-width="0.8" />
<line x1="437.90" y1="92.24" x2="437.90" y2="96.04" stroke="#aca270" stroke-width="0.8" />
<line x1="475.50" y1="92.24" x2="475.50" y2="96.04" stroke="#aca270" stroke-width="0.8" />
<circle cx="458.10" cy="94.14" r="1.0" fill="#7e7428"/>
<line x1="438.70" y1="104.18" x2="474.50" y2="104.18" stroke="#f6eeb4" stroke-width="2.4" />
<line x1="439.20" y1="104.18" x2="474.00" y2="104.18" stroke="#b8aa50" stroke-width="0.8" />
<line x1="439.20" y1="102.28" x2="439.20" y2="106.08" stroke="#aca270" stroke-width="0.8" />
<line x1="474.00" y1="102.28" x2="474.00" y2="106.08" stroke="#aca270" stroke-width="0.8" />
<circle cx="458.10" cy="104.18" r="1.0" fill="#7e7428"/>
<line x1="439.50" y1="114.22" x2="478.30" y2="114.22" stroke="#f6eeb4" stroke-width="2.4" />
<line x1="440.00" y1="114.22" x2="477.80" y2="114.22" stroke="#b8aa50" stroke-width="0.8" />
<line x1="440.00" y1="112.32" x2="440.00" y2="116.12" stroke="#aca270" stroke-width="0.8" />
<line x1="477.80" y1="112.32" x2="477.80" y2="116.12" stroke="#aca270" stroke-width="0.8" />
<circle cx="460.20" cy="114.22" r="1.0" fill="#7e7428"/>
<line x1="438.80" y1="124.26" x2="474.40" y2="124.26" stroke="#323e88" stroke-width="1.3" />
<line x1="438.80" y1="122.36" x2="438.80" y2="126.16" stroke="#323e88" stroke-width="1.3" />
<line x1="474.40" y1="122.36" x2="474.40" y2="126.16" stroke="#323e88" stroke-width="1.3" />
<circle cx="457.50" cy="124.26" r="1.15" fill="#1e2670"/>
<line x1="439.60" y1="134.30" x2="477.40" y2="134.30" stroke="#f6eeb4" stroke-width="2.4" />
<line x1="440.10" y1="134.30" x2="476.90" y2="134.30" stroke="#b8aa50" stroke-width="0.8" />
<line x1="440.10" y1="132.40" x2="440.10" y2="136.20" stroke="#aca270" stroke-width="0.8" />
<line x1="476.90" y1="132.40" x2="476.90" y2="136.20" stroke="#aca270" stroke-width="0.8" />
<circle cx="460.20" cy="134.30" r="1.0" fill="#7e7428"/>
<line x1="439.10" y1="144.34" x2="474.60" y2="144.34" stroke="#f6eeb4" stroke-width="2.4" />
<line x1="439.60" y1="144.34" x2="474.10" y2="144.34" stroke="#b8aa50" stroke-width="0.8" />
<line x1="439.60" y1="142.44" x2="439.60" y2="146.24" stroke="#aca270" stroke-width="0.8" />
<line x1="474.10" y1="142.44" x2="474.10" y2="146.24" stroke="#aca270" stroke-width="0.8" />
<circle cx="457.50" cy="144.34" r="1.0" fill="#7e7428"/>
<line x1="435.60" y1="154.38" x2="478.80" y2="154.38" stroke="#f6eeb4" stroke-width="2.4" />
<line x1="436.10" y1="154.38" x2="478.30" y2="154.38" stroke="#b8aa50" stroke-width="0.8" />
<line x1="436.10" y1="152.48" x2="436.10" y2="156.28" stroke="#aca270" stroke-width="0.8" />
<line x1="478.30" y1="152.48" x2="478.30" y2="156.28" stroke="#aca270" stroke-width="0.8" />
<circle cx="456.50" cy="154.38" r="1.0" fill="#7e7428"/>
<text x="173.30" y="10.20" font-size="12.6" text-anchor="start" fill="#111" font-weight="bold" stroke="#111" stroke-width="0.25" >B</text>
<text x="215.30" y="11.20" font-size="10.5" text-anchor="start" fill="#1a1a1a" font-weight="normal" stroke="#1a1a1a" stroke-width="0.3" textLength="228.0">Subsamples: average treatment effect estimates</text>
<defs><clipPath id="cc"><rect x="0" y="200" width="520" height="152.4"/></clipPath></defs>
<line x1="193.80" y1="211.30" x2="193.80" y2="352.50" stroke="#f4f4f6" stroke-width="0.8" />
<line x1="210.70" y1="211.30" x2="210.70" y2="352.50" stroke="#f4f4f6" stroke-width="0.8" />
<line x1="244.50" y1="211.30" x2="244.50" y2="352.50" stroke="#f4f4f6" stroke-width="0.8" />
<line x1="261.40" y1="211.30" x2="261.40" y2="352.50" stroke="#f4f4f6" stroke-width="0.8" />
<line x1="191.40" y1="337.92" x2="261.50" y2="337.92" stroke="#f4f4f6" stroke-width="0.8" />
<line x1="191.40" y1="319.24" x2="261.50" y2="319.24" stroke="#f4f4f6" stroke-width="0.8" />
<line x1="191.40" y1="300.56" x2="261.50" y2="300.56" stroke="#f4f4f6" stroke-width="0.8" />
<line x1="191.40" y1="281.88" x2="261.50" y2="281.88" stroke="#f4f4f6" stroke-width="0.8" />
<line x1="191.40" y1="263.20" x2="261.50" y2="263.20" stroke="#f4f4f6" stroke-width="0.8" />
<line x1="191.40" y1="244.52" x2="261.50" y2="244.52" stroke="#f4f4f6" stroke-width="0.8" />
<line x1="191.40" y1="225.84" x2="261.50" y2="225.84" stroke="#f4f4f6" stroke-width="0.8" />
<line x1="227.60" y1="222.50" x2="227.60" y2="352.50" stroke="#cacad2" stroke-width="0.8" />
<line x1="191.40" y1="211.30" x2="191.40" y2="352.80" stroke="#2a2a2a" stroke-width="1" />
<line x1="193.30" y1="352.50" x2="261.50" y2="352.50" stroke="#2a2a2a" stroke-width="1" />
<line x1="194.00" y1="352.50" x2="194.00" y2="356.60" stroke="#2a2a2a" stroke-width="1" />
<line x1="202.45" y1="352.50" x2="202.45" y2="356.60" stroke="#2a2a2a" stroke-width="1" />
<line x1="210.90" y1="352.50" x2="210.90" y2="356.60" stroke="#2a2a2a" stroke-width="1" />
<line x1="219.35" y1="352.50" x2="219.35" y2="356.60" stroke="#2a2a2a" stroke-width="1" />
<line x1="227.80" y1="352.50" x2="227.80" y2="356.60" stroke="#2a2a2a" stroke-width="1" />
<line x1="236.25" y1="352.50" x2="236.25" y2="356.60" stroke="#2a2a2a" stroke-width="1" />
<line x1="244.70" y1="352.50" x2="244.70" y2="356.60" stroke="#2a2a2a" stroke-width="1" />
<line x1="253.15" y1="352.50" x2="253.15" y2="356.60" stroke="#2a2a2a" stroke-width="1" />
<line x1="261.60" y1="352.50" x2="261.60" y2="356.60" stroke="#2a2a2a" stroke-width="1" />
<line x1="187.20" y1="337.92" x2="191.40" y2="337.92" stroke="#2a2a2a" stroke-width="1" />
<line x1="187.20" y1="319.24" x2="191.40" y2="319.24" stroke="#2a2a2a" stroke-width="1" />
<line x1="187.20" y1="300.56" x2="191.40" y2="300.56" stroke="#2a2a2a" stroke-width="1" />
<line x1="187.20" y1="281.88" x2="191.40" y2="281.88" stroke="#2a2a2a" stroke-width="1" />
<line x1="187.20" y1="263.20" x2="191.40" y2="263.20" stroke="#2a2a2a" stroke-width="1" />
<line x1="187.20" y1="244.52" x2="191.40" y2="244.52" stroke="#2a2a2a" stroke-width="1" />
<line x1="187.20" y1="225.84" x2="191.40" y2="225.84" stroke="#2a2a2a" stroke-width="1" />
<text x="193.70" y="368.10" font-size="6.5" text-anchor="middle" fill="#1e1e1e" font-weight="normal" stroke="#1e1e1e" stroke-width="0.34" >−0.4</text>
<text x="219.30" y="368.10" font-size="6.5" text-anchor="middle" fill="#1e1e1e" font-weight="normal" stroke="#1e1e1e" stroke-width="0.34" >−0.1</text>
<text x="244.30" y="368.10" font-size="6.5" text-anchor="middle" fill="#1e1e1e" font-weight="normal" stroke="#1e1e1e" stroke-width="0.34" >0.2</text>
<text x="259.90" y="368.10" font-size="6.5" text-anchor="middle" fill="#1e1e1e" font-weight="normal" stroke="#1e1e1e" stroke-width="0.34" >0.4</text>
<text x="227.60" y="379.75" font-size="6.9" text-anchor="middle" fill="#1e1e1e" font-weight="normal" stroke="#1e1e1e" stroke-width="0.34" >Treatment effect estimate</text>
<text x="227.60" y="219.15" font-size="6.95" text-anchor="middle" fill="#1e1e1e" font-weight="normal" stroke="#1e1e1e" stroke-width="0.34" >DFCI−Cohort</text>
<path d="M195.84,357.00 C196.45,356.17 198.39,353.52 199.50,352.00 C200.61,350.48 201.42,349.42 202.50,347.90 C203.58,346.38 204.92,344.55 206.00,342.90 C207.08,341.25 208.08,339.65 209.00,338.00 C209.92,336.35 210.68,334.67 211.50,333.00 C212.32,331.33 213.08,329.67 213.90,328.00 C214.72,326.33 215.62,324.67 216.40,323.00 C217.18,321.33 217.90,319.53 218.60,318.00 C219.30,316.47 219.70,315.00 220.60,313.80 C221.50,312.60 222.83,311.82 224.00,310.80 C225.17,309.78 226.47,307.70 227.60,307.70 C228.73,307.70 229.82,309.78 230.80,310.80 C231.78,311.82 232.63,312.67 233.50,313.80 C234.37,314.93 235.17,316.07 236.00,317.60 C236.83,319.13 237.67,321.27 238.50,323.00 C239.33,324.73 240.18,326.33 241.00,328.00 C241.82,329.67 242.58,331.33 243.40,333.00 C244.22,334.67 245.02,336.35 245.90,338.00 C246.78,339.65 247.73,341.25 248.70,342.90 C249.67,344.55 250.67,346.38 251.70,347.90 C252.73,349.42 253.72,350.48 254.90,352.00 C256.08,353.52 258.15,356.17 258.80,357.00" fill="none" stroke="#1c1c1c" stroke-width="1.05" clip-path="url(#cc)" stroke-linejoin="round"/>
<path d="M214.80,357.00 C214.90,356.25 215.20,354.00 215.40,352.50 C215.60,351.00 215.70,350.42 216.00,348.00 C216.30,345.58 216.82,341.33 217.20,338.00 C217.58,334.67 218.00,331.33 218.30,328.00 C218.60,324.67 218.53,322.67 219.00,318.00 C219.47,313.33 220.60,304.67 221.10,300.00 C221.60,295.33 221.68,295.00 222.00,290.00 C222.32,285.00 222.70,276.67 223.00,270.00 C223.30,263.33 223.58,254.67 223.80,250.00 C224.02,245.33 224.07,245.00 224.30,242.00 C224.53,239.00 224.90,235.33 225.20,232.00 C225.50,228.67 225.80,224.30 226.10,222.00 C226.40,219.70 226.70,218.20 227.00,218.20 C227.30,218.20 227.63,219.70 227.90,222.00 C228.17,224.30 228.38,228.67 228.60,232.00 C228.82,235.33 229.00,239.00 229.20,242.00 C229.40,245.00 229.43,245.33 229.80,250.00 C230.17,254.67 230.87,263.33 231.40,270.00 C231.93,276.67 232.68,285.00 233.00,290.00 C233.32,295.00 233.00,295.33 233.30,300.00 C233.60,304.67 234.47,313.33 234.80,318.00 C235.13,322.67 235.02,324.67 235.30,328.00 C235.58,331.33 236.08,334.67 236.50,338.00 C236.92,341.33 237.42,345.58 237.80,348.00 C238.18,350.42 238.47,351.00 238.80,352.50 C239.13,354.00 239.63,356.25 239.80,357.00" fill="none" stroke="#6870b4" stroke-width="1.1" clip-path="url(#cc)" stroke-linejoin="round"/>
<text x="182.00" y="340.37" font-size="6.9" text-anchor="end" fill="#1e1e1e" font-weight="normal" stroke="#1e1e1e" stroke-width="0.34" >1</text>
<text x="182.00" y="321.69" font-size="6.9" text-anchor="end" fill="#1e1e1e" font-weight="normal" stroke="#1e1e1e" stroke-width="0.34" >2</text>
<text x="182.00" y="303.01" font-size="6.9" text-anchor="end" fill="#1e1e1e" font-weight="normal" stroke="#1e1e1e" stroke-width="0.34" >3</text>
<text x="182.00" y="284.33" font-size="6.9" text-anchor="end" fill="#1e1e1e" font-weight="normal" stroke="#1e1e1e" stroke-width="0.34" >4</text>
<text x="182.00" y="265.65" font-size="6.9" text-anchor="end" fill="#1e1e1e" font-weight="normal" stroke="#1e1e1e" stroke-width="0.34" >5</text>
<text x="182.00" y="246.97" font-size="6.9" text-anchor="end" fill="#1e1e1e" font-weight="normal" stroke="#1e1e1e" stroke-width="0.34" >6</text>
<text x="182.00" y="228.29" font-size="6.9" text-anchor="end" fill="#1e1e1e" font-weight="normal" stroke="#1e1e1e" stroke-width="0.34" >7</text>
<text x="175.20" y="281.80" font-size="6.9" text-anchor="middle" fill="#1e1e1e" font-weight="normal" stroke="#1e1e1e" stroke-width="0.34" transform="rotate(-90 175.20 281.80)" >Density</text>
<line x1="273.50" y1="211.30" x2="273.50" y2="352.50" stroke="#f4f4f6" stroke-width="0.8" />
<line x1="301.90" y1="211.30" x2="301.90" y2="352.50" stroke="#f4f4f6" stroke-width="0.8" />
<line x1="358.70" y1="211.30" x2="358.70" y2="352.50" stroke="#f4f4f6" stroke-width="0.8" />
<line x1="387.10" y1="211.30" x2="387.10" y2="352.50" stroke="#f4f4f6" stroke-width="0.8" />
<line x1="268.90" y1="337.92" x2="387.20" y2="337.92" stroke="#f4f4f6" stroke-width="0.8" />
<line x1="268.90" y1="319.24" x2="387.20" y2="319.24" stroke="#f4f4f6" stroke-width="0.8" />
<line x1="268.90" y1="300.56" x2="387.20" y2="300.56" stroke="#f4f4f6" stroke-width="0.8" />
<line x1="268.90" y1="281.88" x2="387.20" y2="281.88" stroke="#f4f4f6" stroke-width="0.8" />
<line x1="268.90" y1="263.20" x2="387.20" y2="263.20" stroke="#f4f4f6" stroke-width="0.8" />
<line x1="268.90" y1="244.52" x2="387.20" y2="244.52" stroke="#f4f4f6" stroke-width="0.8" />
<line x1="268.90" y1="225.84" x2="387.20" y2="225.84" stroke="#f4f4f6" stroke-width="0.8" />
<line x1="330.30" y1="222.50" x2="330.30" y2="352.50" stroke="#cacad2" stroke-width="0.8" />
<line x1="268.90" y1="211.30" x2="268.90" y2="352.80" stroke="#2a2a2a" stroke-width="1" />
<line x1="273.40" y1="352.50" x2="387.20" y2="352.50" stroke="#2a2a2a" stroke-width="1" />
<line x1="273.50" y1="352.50" x2="273.50" y2="356.60" stroke="#2a2a2a" stroke-width="1" />
<line x1="287.70" y1="352.50" x2="287.70" y2="356.60" stroke="#2a2a2a" stroke-width="1" />
<line x1="301.90" y1="352.50" x2="301.90" y2="356.60" stroke="#2a2a2a" stroke-width="1" />
<line x1="316.10" y1="352.50" x2="316.10" y2="356.60" stroke="#2a2a2a" stroke-width="1" />
<line x1="330.30" y1="352.50" x2="330.30" y2="356.60" stroke="#2a2a2a" stroke-width="1" />
<line x1="344.50" y1="352.50" x2="344.50" y2="356.60" stroke="#2a2a2a" stroke-width="1" />
<line x1="358.70" y1="352.50" x2="358.70" y2="356.60" stroke="#2a2a2a" stroke-width="1" />
<line x1="372.90" y1="352.50" x2="372.90" y2="356.60" stroke="#2a2a2a" stroke-width="1" />
<line x1="387.10" y1="352.50" x2="387.10" y2="356.60" stroke="#2a2a2a" stroke-width="1" />
<line x1="264.70" y1="337.92" x2="268.90" y2="337.92" stroke="#2a2a2a" stroke-width="1" />
<line x1="264.70" y1="319.24" x2="268.90" y2="319.24" stroke="#2a2a2a" stroke-width="1" />
<line x1="264.70" y1="300.56" x2="268.90" y2="300.56" stroke="#2a2a2a" stroke-width="1" />
<line x1="264.70" y1="281.88" x2="268.90" y2="281.88" stroke="#2a2a2a" stroke-width="1" />
<line x1="264.70" y1="263.20" x2="268.90" y2="263.20" stroke="#2a2a2a" stroke-width="1" />
<line x1="264.70" y1="244.52" x2="268.90" y2="244.52" stroke="#2a2a2a" stroke-width="1" />
<line x1="264.70" y1="225.84" x2="268.90" y2="225.84" stroke="#2a2a2a" stroke-width="1" />
<text x="274.50" y="368.10" font-size="6.5" text-anchor="middle" fill="#1e1e1e" font-weight="normal" stroke="#1e1e1e" stroke-width="0.34" >−0.4</text>
<text x="301.90" y="368.10" font-size="6.5" text-anchor="middle" fill="#1e1e1e" font-weight="normal" stroke="#1e1e1e" stroke-width="0.34" >−0.2</text>
<text x="330.20" y="368.10" font-size="6.5" text-anchor="middle" fill="#1e1e1e" font-weight="normal" stroke="#1e1e1e" stroke-width="0.34" >0.0</text>
<text x="358.40" y="368.10" font-size="6.5" text-anchor="middle" fill="#1e1e1e" font-weight="normal" stroke="#1e1e1e" stroke-width="0.34" >0.2</text>
<text x="386.50" y="368.10" font-size="6.5" text-anchor="middle" fill="#1e1e1e" font-weight="normal" stroke="#1e1e1e" stroke-width="0.34" >0.4</text>
<text x="330.30" y="379.75" font-size="6.9" text-anchor="middle" fill="#1e1e1e" font-weight="normal" stroke="#1e1e1e" stroke-width="0.34" >Treatment effect estimate</text>
<text x="330.30" y="219.15" font-size="6.95" text-anchor="middle" fill="#1e1e1e" font-weight="normal" stroke="#1e1e1e" stroke-width="0.34" >UCLA−Cohort</text>
<path d="M278.62,357.00 C279.69,356.15 283.10,353.42 285.00,351.90 C286.90,350.38 288.33,349.40 290.00,347.90 C291.67,346.40 293.43,344.55 295.00,342.90 C296.57,341.25 298.00,339.65 299.40,338.00 C300.80,336.35 302.15,334.67 303.40,333.00 C304.65,331.33 305.73,329.67 306.90,328.00 C308.07,326.33 309.52,324.28 310.40,323.00 C311.28,321.72 311.60,321.22 312.20,320.30 C312.80,319.38 313.15,318.65 314.00,317.50 C314.85,316.35 316.17,314.73 317.30,313.40 C318.43,312.07 319.45,310.78 320.80,309.50 C322.15,308.22 323.83,306.70 325.40,305.70 C326.97,304.70 328.53,303.50 330.20,303.50 C331.87,303.50 333.83,304.70 335.40,305.70 C336.97,306.70 338.38,308.22 339.60,309.50 C340.82,310.78 341.75,312.12 342.70,313.40 C343.65,314.68 344.65,316.05 345.30,317.20 C345.95,318.35 346.07,319.33 346.60,320.30 C347.13,321.27 347.60,321.72 348.50,323.00 C349.40,324.28 350.85,326.33 352.00,328.00 C353.15,329.67 354.25,331.33 355.40,333.00 C356.55,334.67 357.65,336.35 358.90,338.00 C360.15,339.65 361.48,341.25 362.90,342.90 C364.32,344.55 365.73,346.40 367.40,347.90 C369.07,349.40 370.81,350.38 372.90,351.90 C374.99,353.42 378.74,356.15 379.91,357.00" fill="none" stroke="#1c1c1c" stroke-width="1.05" clip-path="url(#cc)" stroke-linejoin="round"/>
<path d="M309.40,357.00 C309.65,356.25 310.40,354.00 310.90,352.50 C311.40,351.00 311.73,350.42 312.40,348.00 C313.07,345.58 314.15,341.33 314.90,338.00 C315.65,334.67 316.35,331.33 316.90,328.00 C317.45,324.67 317.48,323.00 318.20,318.00 C318.92,313.00 320.65,302.67 321.20,298.00 C321.75,293.33 321.18,293.47 321.50,290.00 C321.82,286.53 322.65,280.53 323.10,277.20 C323.55,273.87 323.85,272.53 324.20,270.00 C324.55,267.47 324.93,264.17 325.20,262.00 C325.47,259.83 325.58,258.67 325.80,257.00 C326.02,255.33 326.22,253.67 326.50,252.00 C326.78,250.33 327.05,248.67 327.50,247.00 C327.95,245.33 328.32,243.58 329.20,242.00 C330.08,240.42 331.77,237.50 332.80,237.50 C333.83,237.50 334.72,240.42 335.40,242.00 C336.08,243.58 336.52,245.33 336.90,247.00 C337.28,248.67 337.45,250.33 337.70,252.00 C337.95,253.67 338.17,255.33 338.40,257.00 C338.63,258.67 338.85,259.83 339.10,262.00 C339.35,264.17 339.63,267.47 339.90,270.00 C340.17,272.53 340.30,273.87 340.70,277.20 C341.10,280.53 341.97,286.53 342.30,290.00 C342.63,293.47 342.22,293.33 342.70,298.00 C343.18,302.67 344.52,313.00 345.20,318.00 C345.88,323.00 346.33,324.67 346.80,328.00 C347.27,331.33 347.50,334.67 348.00,338.00 C348.50,341.33 349.13,345.58 349.80,348.00 C350.47,350.42 351.27,351.00 352.00,352.50 C352.73,354.00 353.83,356.25 354.20,357.00" fill="none" stroke="#6870b4" stroke-width="1.1" clip-path="url(#cc)" stroke-linejoin="round"/>
<line x1="400.80" y1="211.30" x2="400.80" y2="352.50" stroke="#f4f4f6" stroke-width="0.8" />
<line x1="429.20" y1="211.30" x2="429.20" y2="352.50" stroke="#f4f4f6" stroke-width="0.8" />
<line x1="486.00" y1="211.30" x2="486.00" y2="352.50" stroke="#f4f4f6" stroke-width="0.8" />
<line x1="514.40" y1="211.30" x2="514.40" y2="352.50" stroke="#f4f4f6" stroke-width="0.8" />
<line x1="396.40" y1="337.92" x2="514.50" y2="337.92" stroke="#f4f4f6" stroke-width="0.8" />
<line x1="396.40" y1="319.24" x2="514.50" y2="319.24" stroke="#f4f4f6" stroke-width="0.8" />
<line x1="396.40" y1="300.56" x2="514.50" y2="300.56" stroke="#f4f4f6" stroke-width="0.8" />
<line x1="396.40" y1="281.88" x2="514.50" y2="281.88" stroke="#f4f4f6" stroke-width="0.8" />
<line x1="396.40" y1="263.20" x2="514.50" y2="263.20" stroke="#f4f4f6" stroke-width="0.8" />
<line x1="396.40" y1="244.52" x2="514.50" y2="244.52" stroke="#f4f4f6" stroke-width="0.8" />
<line x1="396.40" y1="225.84" x2="514.50" y2="225.84" stroke="#f4f4f6" stroke-width="0.8" />
<line x1="457.60" y1="222.50" x2="457.60" y2="352.50" stroke="#cacad2" stroke-width="0.8" />
<line x1="396.40" y1="211.30" x2="396.40" y2="352.80" stroke="#2a2a2a" stroke-width="1" />
<line x1="400.70" y1="352.50" x2="514.50" y2="352.50" stroke="#2a2a2a" stroke-width="1" />
<line x1="400.80" y1="352.50" x2="400.80" y2="356.60" stroke="#2a2a2a" stroke-width="1" />
<line x1="415.00" y1="352.50" x2="415.00" y2="356.60" stroke="#2a2a2a" stroke-width="1" />
<line x1="429.20" y1="352.50" x2="429.20" y2="356.60" stroke="#2a2a2a" stroke-width="1" />
<line x1="443.40" y1="352.50" x2="443.40" y2="356.60" stroke="#2a2a2a" stroke-width="1" />
<line x1="457.60" y1="352.50" x2="457.60" y2="356.60" stroke="#2a2a2a" stroke-width="1" />
<line x1="471.80" y1="352.50" x2="471.80" y2="356.60" stroke="#2a2a2a" stroke-width="1" />
<line x1="486.00" y1="352.50" x2="486.00" y2="356.60" stroke="#2a2a2a" stroke-width="1" />
<line x1="500.20" y1="352.50" x2="500.20" y2="356.60" stroke="#2a2a2a" stroke-width="1" />
<line x1="514.40" y1="352.50" x2="514.40" y2="356.60" stroke="#2a2a2a" stroke-width="1" />
<line x1="392.20" y1="337.92" x2="396.40" y2="337.92" stroke="#2a2a2a" stroke-width="1" />
<line x1="392.20" y1="319.24" x2="396.40" y2="319.24" stroke="#2a2a2a" stroke-width="1" />
<line x1="392.20" y1="300.56" x2="396.40" y2="300.56" stroke="#2a2a2a" stroke-width="1" />
<line x1="392.20" y1="281.88" x2="396.40" y2="281.88" stroke="#2a2a2a" stroke-width="1" />
<line x1="392.20" y1="263.20" x2="396.40" y2="263.20" stroke="#2a2a2a" stroke-width="1" />
<line x1="392.20" y1="244.52" x2="396.40" y2="244.52" stroke="#2a2a2a" stroke-width="1" />
<line x1="392.20" y1="225.84" x2="396.40" y2="225.84" stroke="#2a2a2a" stroke-width="1" />
<text x="401.60" y="368.10" font-size="6.5" text-anchor="middle" fill="#1e1e1e" font-weight="normal" stroke="#1e1e1e" stroke-width="0.34" >−0.4</text>
<text x="429.10" y="368.10" font-size="6.5" text-anchor="middle" fill="#1e1e1e" font-weight="normal" stroke="#1e1e1e" stroke-width="0.34" >−0.2</text>
<text x="457.50" y="368.10" font-size="6.5" text-anchor="middle" fill="#1e1e1e" font-weight="normal" stroke="#1e1e1e" stroke-width="0.34" >0.0</text>
<text x="486.00" y="368.10" font-size="6.5" text-anchor="middle" fill="#1e1e1e" font-weight="normal" stroke="#1e1e1e" stroke-width="0.34" >0.2</text>
<text x="514.00" y="368.10" font-size="6.5" text-anchor="middle" fill="#1e1e1e" font-weight="normal" stroke="#1e1e1e" stroke-width="0.34" >0.4</text>
<text x="457.60" y="379.75" font-size="6.9" text-anchor="middle" fill="#1e1e1e" font-weight="normal" stroke="#1e1e1e" stroke-width="0.34" >Treatment effect estimate</text>
<text x="457.60" y="219.15" font-size="6.95" text-anchor="middle" fill="#1e1e1e" font-weight="normal" stroke="#1e1e1e" stroke-width="0.34" >NCT00943826</text>
<path d="M408.76,357.00 C409.72,356.15 412.79,353.42 414.50,351.90 C416.21,350.38 417.50,349.40 419.00,347.90 C420.50,346.40 422.02,344.55 423.50,342.90 C424.98,341.25 426.50,339.65 427.90,338.00 C429.30,336.35 430.65,334.67 431.90,333.00 C433.15,331.33 434.23,329.67 435.40,328.00 C436.57,326.33 437.83,324.65 438.90,323.00 C439.97,321.35 440.60,319.88 441.80,318.10 C443.00,316.32 444.32,314.23 446.10,312.30 C447.88,310.37 450.42,308.00 452.50,306.50 C454.58,305.00 456.48,303.30 458.60,303.30 C460.72,303.30 463.23,305.00 465.20,306.50 C467.17,308.00 468.93,310.38 470.40,312.30 C471.87,314.22 473.07,316.22 474.00,318.00 C474.93,319.78 475.17,321.33 476.00,323.00 C476.83,324.67 478.00,326.33 479.00,328.00 C480.00,329.67 480.93,331.33 482.00,333.00 C483.07,334.67 484.17,336.35 485.40,338.00 C486.63,339.65 487.98,341.25 489.40,342.90 C490.82,344.55 492.23,346.40 493.90,347.90 C495.57,349.40 497.31,350.38 499.40,351.90 C501.49,353.42 505.24,356.15 506.41,357.00" fill="none" stroke="#1c1c1c" stroke-width="1.05" clip-path="url(#cc)" stroke-linejoin="round"/>
<path d="M430.90,357.00 C431.40,356.25 432.90,354.00 433.90,352.50 C434.90,351.00 435.73,350.42 436.90,348.00 C438.07,345.58 439.73,341.33 440.90,338.00 C442.07,334.67 443.23,331.33 443.90,328.00 C444.57,324.67 444.55,320.83 444.90,318.00 C445.25,315.17 445.43,315.00 446.00,311.00 C446.57,307.00 447.43,300.68 448.30,294.00 C449.17,287.32 450.62,275.23 451.20,270.90 C451.78,266.57 451.53,269.82 451.80,268.00 C452.07,266.18 452.52,262.17 452.80,260.00 C453.08,257.83 453.27,256.67 453.50,255.00 C453.73,253.33 453.92,251.67 454.20,250.00 C454.48,248.33 454.82,246.67 455.20,245.00 C455.58,243.33 456.00,241.50 456.50,240.00 C457.00,238.50 457.58,236.00 458.20,236.00 C458.82,236.00 459.62,238.50 460.20,240.00 C460.78,241.50 461.25,243.33 461.70,245.00 C462.15,246.67 462.53,248.33 462.90,250.00 C463.27,251.67 463.60,253.33 463.90,255.00 C464.20,256.67 464.37,257.83 464.70,260.00 C465.03,262.17 465.58,266.18 465.90,268.00 C466.22,269.82 466.20,266.57 466.60,270.90 C467.00,275.23 467.82,287.32 468.30,294.00 C468.78,300.68 469.02,307.00 469.50,311.00 C469.98,315.00 470.65,315.17 471.20,318.00 C471.75,320.83 472.20,324.67 472.80,328.00 C473.40,331.33 474.02,334.67 474.80,338.00 C475.58,341.33 476.80,345.58 477.50,348.00 C478.20,350.42 478.50,351.00 479.00,352.50 C479.50,354.00 480.25,356.25 480.50,357.00" fill="none" stroke="#6870b4" stroke-width="1.1" clip-path="url(#cc)" stroke-linejoin="round"/>
<line x1="275.20" y1="277.60" x2="288.20" y2="277.60" stroke="#6d75b2" stroke-width="1.4" />
<line x1="275.20" y1="285.80" x2="288.20" y2="285.80" stroke="#3a3a3a" stroke-width="1.3" />
<text x="294.00" y="280.10" font-size="7" text-anchor="start" fill="#4e5898" font-weight="normal" stroke="#4e5898" stroke-width="0.34" >ECT</text>
<text x="294.00" y="288.30" font-size="7" text-anchor="start" fill="#1c1c1c" font-weight="normal" stroke="#1c1c1c" stroke-width="0.34" >RCT</text>
<text x="166.70" y="207.60" font-size="12.6" text-anchor="start" fill="#111" font-weight="bold" stroke="#111" stroke-width="0.25" >C</text>
<text x="221.80" y="208.60" font-size="10.5" text-anchor="start" fill="#1a1a1a" font-weight="normal" stroke="#1a1a1a" stroke-width="0.3" >Subsamples: distribution of treatment effect estimates</text>
</svg>
</body></html>
